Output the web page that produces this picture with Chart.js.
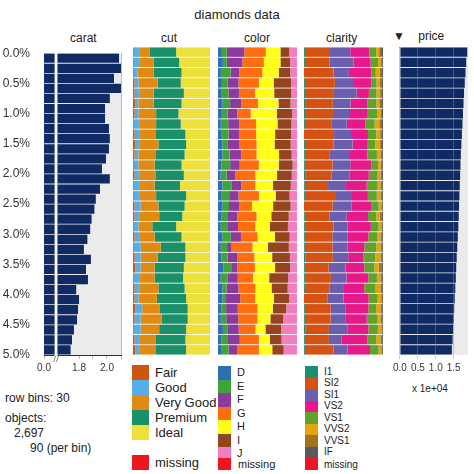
<!DOCTYPE html>
<html><head><meta charset="utf-8">
<script src="https://cdn.jsdelivr.net/npm/chart.js@4"></script>
<style>
body{margin:0;width:474px;height:474px;background:#fff;font-family:"Liberation Sans",Arial,sans-serif;position:relative;overflow:hidden;color:#222}
canvas{position:absolute}
.t{position:absolute;white-space:nowrap}
.sw{position:absolute}
</style></head><body>
<div class="t" style="left:0;width:474px;text-align:center;top:7px;font-size:13px">diamonds data</div>
<div class="t" style="left:70px;top:31px;font-size:12px">carat</div>
<div class="t" style="left:161px;top:31px;font-size:12px">cut</div>
<div class="t" style="left:244px;top:31px;font-size:12px">color</div>
<div class="t" style="left:326px;top:31px;font-size:12px">clarity</div>
<div class="t" style="left:393px;top:29px;font-size:12px">&#9660;&nbsp;&nbsp;&nbsp;&nbsp;price</div>
<div class="t" style="left:412px;top:383px;font-size:10px">x 1e+04</div>
<div class="t" style="left:5px;top:391px;font-size:12px">row bins: 30</div>
<div class="t" style="left:5px;top:411px;font-size:12px">objects:</div>
<div class="t" style="left:14px;top:426px;font-size:12px">2,697</div>
<div class="t" style="left:30px;top:441px;font-size:12px">90 (per bin)</div>
<div id="leg"></div>
<canvas id="cCarat" width="124" height="343" style="left:0;top:40px;width:124px;height:343px"></canvas>
<canvas id="cCut" width="77" height="308" style="left:133px;top:47px;width:77px;height:308px"></canvas>
<canvas id="cColor" width="79" height="308" style="left:218px;top:47px;width:79px;height:308px"></canvas>
<canvas id="cClar" width="79" height="308" style="left:304px;top:47px;width:79px;height:308px"></canvas>
<canvas id="cPrice" width="78" height="336" style="left:390px;top:47px;width:78px;height:336px"></canvas>
<script>
const rows = Array.from({length:30},(_,i)=>String(i+1));
const carat = [2.086,2.1,2.05,2.114,2.02,1.986,1.986,2.014,2.02,2.014,1.993,1.964,2.02,1.95,1.92,1.91,1.89,1.88,1.86,1.835,1.885,1.85,1.864,1.78,1.8,1.793,1.786,1.764,1.75,1.74];
const price = [18800,18500,18300,18100,17900,17750,17600,17450,17300,17150,17000,16900,16800,16700,16600,16500,16400,16300,16150,16000,15850,15700,15600,15450,15300,15150,15000,14850,14700,14500];
const cutNames = ["Fair","Good","Very Good","Premium","Ideal"];
const cutColors = ["#cf5410","#55aee6","#e08a14","#1a9068","#eee03a"];
const cutFair = [1,1,1,2,2,3,2,1,2,3,2,1,2,1,1,2,2,1,2,1,2,3,1,2,2,3,2,1,2,3];
const cutGood = [7,8,5,5,6,4,5,7,6,5,5,6,6,8,7,8,7,6,7,9,8,7,8,7,5,9,8,9,7,6];
const cutVG = [14,18,21,25,19,20,23,22,21,25,22,21,21,19,22,23,25,18,19,26,22,18,19,24,24,23,27,24,20,20];
const cutPrem = [34,33,36,30,39,36,29,32,39,36,38,35,37,33,39,34,30,31,35,32,36,38,37,34,38,36,34,35,39,40];
const cutIdeal = [44,40,37,38,34,37,41,38,32,31,33,37,34,39,31,33,36,44,37,32,32,34,35,33,31,29,29,31,32,31];
const colNames = ["D","E","F","G","H","I","J"];
const colColors = ["#2f6db5","#3da63a","#8c3a9e","#ff6d10","#ffff1a","#954420","#f27ec0"];
const colD = [4,5,3,4,4,5,4,3,4,5,5,4,3,5,4,5,4,3,5,3,4,6,3,5,5,4,3,5,4,4];
const colE = [5,4,10,6,7,8,6,8,7,6,8,10,7,10,8,7,6,8,9,7,7,9,8,5,4,5,6,5,7,7];
const colF = [18,16,9,11,11,12,10,12,11,13,13,11,10,11,10,11,11,11,11,5,11,7,11,14,16,13,13,11,13,9];
const colG = [22,22,24,21,17,18,14,18,18,19,17,22,23,16,22,14,21,19,18,23,19,20,17,20,17,22,21,17,21,23];
const colH = [15,17,17,15,20,22,27,23,20,20,25,23,25,20,18,23,16,16,19,17,20,23,18,19,21,17,14,10,12,14];
const colI = [9,10,12,18,18,13,16,15,17,18,14,16,17,20,15,19,19,20,16,23,20,17,21,19,17,15,14,16,13,12];
const colJ = [8,7,7,6,6,7,5,6,6,7,6,5,6,7,8,7,9,10,8,9,8,8,10,11,9,12,15,16,17,14];
const clNames = ["I1","SI2","SI1","VS2","VS1","VVS2","VVS1","IF"];
const clColors = ["#1b9070","#d55212","#6a5eae","#e6188a","#5fa32a","#e5a30c","#a0741e","#5a5a5a"];
const clI1 = [1,1,0,1,1,2,1,1,0,1,1,1,2,1,1,0,1,1,1,1,2,1,1,1,0,1,1,2,1,1];
const clSI2 = [25,26,33,33,30,29,29,29,32,30,28,33,29,27,34,33,30,33,32,33,32,28,30,28,26,30,30,27,28,33];
const clSI1 = [22,25,17,20,25,19,15,16,18,20,24,21,20,21,18,22,20,16,18,18,18,20,18,16,18,17,17,22,15,16];
const clVS2 = [20,18,25,20,13,18,18,20,18,16,20,25,22,24,19,23,26,27,24,20,18,22,25,23,28,27,25,24,30,26];
const clVS1 = [7,8,5,6,8,10,10,10,9,8,11,8,10,12,10,8,10,9,10,14,14,12,10,12,10,9,12,11,10,10];
const clVVS2 = [3,3,4,3,4,3,4,5,4,5,4,3,3,4,4,3,4,3,4,5,6,5,4,6,4,5,4,4,5,3];
const clVVS1 = [2,1,2,2,2,2,1,2,2,1,2,2,1,2,2,1,2,1,2,2,2,3,2,2,1,2,2,1,2,1];
const clIF = [2,1,2,2,1,2,1,2,1,2,1,1,2,1,1,1,2,1,1,1,1,2,1,1,1,1,1,1,1,1];
const pctTicks = ["0.0%","0.5%","1.0%","1.5%","2.0%","2.5%","3.0%","3.5%","4.0%","4.5%","5.0%"];
const caratTickVals = [1.55,1.8,1.9,2.0,2.1];
const caratTickLabels = ["0.0","1.8","","2.0",""];
const priceTickLabels = ["0.0","0.5","1.0","1.5"];

Chart.defaults.font.family = '"Liberation Sans", Arial, sans-serif';
Chart.defaults.animation = false;
Chart.defaults.responsive = false;
const NAVY = "#102a63";
const bgPlugin = {id:'bg',beforeDatasetsDraw(c){const a=c.chartArea,x=c.ctx;x.save();x.fillStyle='#ebebeb';x.fillRect(a.left,a.top,a.right-a.left,a.bottom-a.top);x.restore();}};
const breakPlugin = {id:'brk',afterDatasetsDraw(c){const s=c.scales.x,a=c.chartArea,x=c.ctx;const x0=s.getPixelForValue(1.626),x1=s.getPixelForValue(1.646);x.save();x.fillStyle='#fff';x.fillRect(x0,a.top,x1-x0,a.bottom-a.top+6);x.strokeStyle='#888';x.lineWidth=1;x.beginPath();x.moveTo(x0-1,a.bottom+7);x.lineTo(x0+1,a.bottom+1);x.moveTo(x1-1,a.bottom+7);x.lineTo(x1+1,a.bottom+1);x.stroke();x.restore();}};
const barDs = {barPercentage:0.92,categoryPercentage:1,borderWidth:0};

function norm(arrs){return arrs.map((a,k)=>a.map((v,i)=>{let s=0;arrs.forEach(b=>s+=b[i]);return v/s*100;}));}

new Chart(document.getElementById('cCarat'),{type:'bar',
 data:{labels:rows,datasets:[Object.assign({data:carat.map(v=>[1.55,v]),backgroundColor:NAVY},barDs)]},
 options:{indexAxis:'y',layout:{padding:{top:7,right:2}},plugins:{legend:{display:false},tooltip:{enabled:false}},
  scales:{
   y:{display:false},
   yPct:{type:'linear',position:'left',offset:false,min:0,max:5,reverse:true,grid:{display:false,drawOnChartArea:false,offset:false},border:{display:true,color:'#333'},
     afterBuildTicks(s){s.ticks=pctTicks.map((t,i)=>({value:i*0.5}));},
     ticks:{color:'#333',font:{size:12},padding:6,callback:(v,i)=>pctTicks[i]},
     afterFit(s){s.width=44;}},
   x:{type:'linear',min:1.55,max:2.1,grid:{color:'#bdbdbd',drawTicks:true,tickLength:4},border:{display:true,color:'#333'},
     afterBuildTicks(s){s.ticks=caratTickVals.map(v=>({value:v}));},
     ticks:{color:'#333',font:{size:10},maxRotation:0,autoSkip:false,callback:(v,i)=>caratTickLabels[i]},
     afterFit(s){s.height=28;}}
  }},plugins:[bgPlugin,breakPlugin]});

function stacked(id,arrs,colors){
 const n=norm(arrs);
 new Chart(document.getElementById(id),{type:'bar',
  data:{labels:rows,datasets:n.map((d,k)=>Object.assign({data:d,backgroundColor:colors[k]},barDs))},
  options:{indexAxis:'y',plugins:{legend:{display:false},tooltip:{enabled:false}},
   scales:{y:{display:false,stacked:true},x:{display:false,stacked:true,min:0,max:100}}}});
}
stacked('cCut',[cutFair,cutGood,cutVG,cutPrem,cutIdeal],cutColors);
stacked('cColor',[colD,colE,colF,colG,colH,colI,colJ],colColors);
stacked('cClar',[clI1,clSI2,clSI1,clVS2,clVS1,clVVS2,clVVS1,clIF],clColors);

new Chart(document.getElementById('cPrice'),{type:'bar',
 data:{labels:rows,datasets:[Object.assign({data:price,backgroundColor:NAVY},barDs)]},
 options:{indexAxis:'y',plugins:{legend:{display:false},tooltip:{enabled:false}},
  scales:{y:{display:false},
   x:{type:'linear',min:0,max:19000,grid:{color:'rgba(140,140,140,0.45)',z:1,tickLength:4},border:{display:true,color:'#333'},
     afterBuildTicks(s){s.ticks=[0,5000,10000,15000].map(v=>({value:v}));},
     ticks:{color:'#333',font:{size:10},maxRotation:0,autoSkip:false,callback:(v,i)=>priceTickLabels[i]},
     afterFit(s){s.height=28;}}}},plugins:[bgPlugin]});

const leg=document.getElementById('leg');
function legend(names,colors,x,y0,step,sw,fs){
 names.forEach((n,i)=>{
  const y=y0+i*step;
  leg.insertAdjacentHTML('beforeend',`<div class="sw" style="left:${x}px;top:${y}px;width:${sw}px;height:${step}px;background:${colors[i]}"></div><div class="t" style="left:${x+sw+6}px;top:${y+(step-fs)/2-1}px;font-size:${fs}px">${n}</div>`);
 });
}
legend(cutNames,cutColors,132,365,15,17,13);
legend(colNames,colColors,218,366,13.5,13,11);
legend(clNames,clColors,305,366,11.5,13,10);
leg.insertAdjacentHTML('beforeend',`<div class="sw" style="left:132px;top:455px;width:17px;height:15px;background:#f0141e"></div><div class="t" style="left:155px;top:455px;font-size:13px">missing</div>
<div class="sw" style="left:218px;top:458px;width:13px;height:12px;background:#f0141e"></div><div class="t" style="left:238px;top:458px;font-size:11px">missing</div>
<div class="sw" style="left:305px;top:458px;width:13px;height:12px;background:#f0141e"></div><div class="t" style="left:324px;top:459px;font-size:10px">missing</div>`);
</script></body></html>
